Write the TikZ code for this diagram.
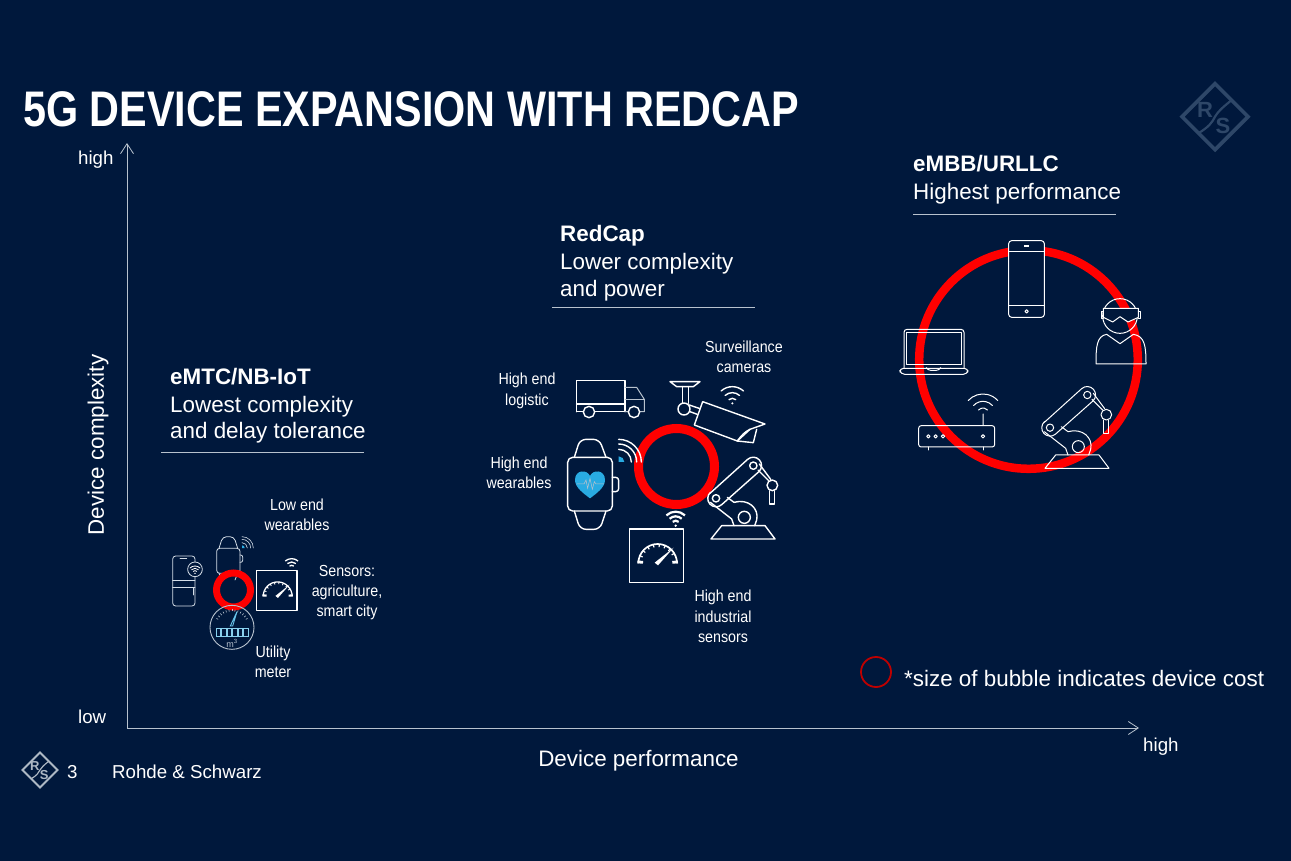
\documentclass[tikz,border=0pt]{standalone}
\usepackage{fontspec}
\setmainfont{Liberation Sans}
\newfontfamily\narrowfont[FakeStretch=0.89]{Liberation Sans}
\newfontfamily\titlefont[FakeStretch=0.827]{Liberation Sans Bold}
\usetikzlibrary{arrows.meta,calc}
\definecolor{bgnavy}{HTML}{00183C}
\definecolor{redcirc}{HTML}{FF0000}
\definecolor{skyblue}{HTML}{29ABE2}
\definecolor{logofaint}{HTML}{2E4768}
\definecolor{logolight}{HTML}{AEB8C4}
\definecolor{softline}{HTML}{B8C2CE}
\definecolor{lowicon}{HTML}{D5DEE8}
\tikzset{
  bubble/.style={draw=redcirc},
  icon/.style={draw=white,line width=1.4pt,line join=round,line cap=round},
  thinicon/.style={draw=white,line width=1pt,line join=round,line cap=round},
  lowlinew/.style={draw=lowicon,line width=.8pt,line join=round,line cap=round},
  body/.style={anchor=base west,inner sep=0pt,text=white,font=\fontsize{22.4}{27}\selectfont},
  bodyhead/.style={body,font=\fontsize{22.4}{27}\selectfont\bfseries},
  small/.style={inner sep=0pt,text=white,align=center,font=\narrowfont\fontsize{16}{20.4}\selectfont},
  axislabel/.style={inner sep=0pt,text=white,font=\fontsize{18.7}{23}\selectfont},
  rule/.style={draw=softline,line width=.6pt},
  axis/.style={draw=softline,line width=.8pt},
}
\newcommand{\wififlip}[4]{%
  \foreach \r in {#2}{\draw[#4] ($(#1)+({-90-#3}:\r)$) arc[start angle={-90-#3},end angle={-90+#3},radius=\r];}
}
\newcommand{\roboticon}[2]{% shift (zoom units), style
  \begin{scope}[shift={(#1)}]
    \draw[#2] (693,627) -- (725,587) -- (855,587) -- (885,627) -- cycle;
    \draw[#2] (690,490) -- (803,388) arc[start angle=228,end angle=408,radius=25] -- (725,524) arc[start angle=48,end angle=228,radius=25]-- cycle;
    \draw[#2] (708,505) circle (11);
    \draw[#2] (820,407) circle (11);
    \draw[#2] (834,420) -- (866,452);
    \draw[#2] (838,402) -- (872,448);
    \draw[#2] (877,466) circle (16);
    \draw[#2] (869,482) -- (869,522) -- (883,522) -- (883,482);
    \draw[#2] (691,517) -- (755,567) -- (762,587);
    \draw[#2] (742,502) -- (762,517) .. controls (805,505) and (838,535) .. (830,570) -- (824,587);
    \draw[#2] (793,562) circle (18);
  \end{scope}
}
\newcommand{\gaugeicon}[3]{% shift, scale, style
  \begin{scope}[shift={(#1)},scale=#2]
    \draw[#3] (0,0) rectangle (161,160);
    \begin{scope}[shift={(84,103)}]
      \draw[draw=white,line width={1.7pt*#2}] (-58,0) arc[start angle=180,end angle=360,radius=58];
      \foreach \a in {203,221,...,340}{\draw[draw=white,line width={1.2pt*#2}] (\a:58) -- (\a:49);}
      \draw[draw=white,line width={2.8pt*#2}] (184:44) -- (184:61);
      \draw[draw=white,line width={2.8pt*#2}] (356:44) -- (356:61);
      \fill[white] (-9,-2) -- (48,-47) -- (1,6) -- cycle;
    \end{scope}
  \end{scope}
}
\newcommand{\rslogo}[5]{% centre, scale, colour, font size, prefix
  \begin{scope}[shift={(#1)},scale=#2]
    \draw[draw=#3,line width={3.6pt*#2}] (0,-33) -- (33,0) -- (0,33) -- (-33,0) -- cycle;
    \draw[draw=#3,line width={2.2pt*#2}] (16.5,-16.5) .. controls (6,-8) and (3,-5) .. (0,0) .. controls (-3,6) and (-6,10) .. (-16.5,16.5);
    \node[text=#3,inner sep=0pt,font=\bfseries\fontsize{#4}{#4}\selectfont] (#5R) at (-10,-7) {R};
    \node[text=#3,inner sep=0pt,font=\bfseries\fontsize{#4}{#4}\selectfont] (#5S) at (8,9) {S};
  \end{scope}
}
\begin{document}
\begin{tikzpicture}[x=1pt,y=-1pt]
\useasboundingbox (0,0) rectangle (1291,861);
\fill[bgnavy] (0,0) rectangle (1291,861);

% title
\node[anchor=base west,inner sep=0pt,text=white,font=\titlefont\fontsize{50}{52}\selectfont] (title) at (23,126.5) {5G DEVICE EXPANSION WITH REDCAP};

% logos
\rslogo{1215,116.7}{1}{logofaint}{22}{big}
\rslogo{40,770}{.53}{logolight}{13}{small}

% axes
\coordinate (orig) at (127,728);
\coordinate (ytip) at (127,143);
\coordinate (xtip) at (1139,728);
\draw[axis,-{Straight Barb[length=10pt,width=13pt]}] (orig) -- (ytip);
\draw[axis,-{Straight Barb[length=10pt,width=13pt]}] (orig) -- (xtip);
\node[axislabel,anchor=base west] (yhigh) at (78,165) {high};
\node[axislabel,anchor=base west] (ylow) at (78,723) {low};
\node[axislabel,anchor=base west] (xhigh) at (1143,751) {high};
\node[inner sep=0pt,text=white,font=\fontsize{22.4}{26}\selectfont,rotate=90] (ylab) at (98,445) {Device complexity};
\node[inner sep=0pt,text=white,font=\fontsize{22.4}{26}\selectfont,anchor=base] (xlab) at (638.5,766) {Device performance};
\node[axislabel,anchor=base west] (pageno) at (67,778) {3};
\node[axislabel,anchor=base west] (brand) at (112,778) {Rohde \& Schwarz};

% headings
\node[bodyhead] (h1a) at (170,384) {eMTC/NB-IoT};
\node[body] (h1b) at (170,412) {Lowest complexity};
\node[body] (h1c) at (170,438) {and delay tolerance};
\draw[rule] (161,452.5) -- (364,452.5);
\node[bodyhead] (h2a) at (560,242) {RedCap};
\node[body] (h2b) at (560,269.5) {Lower complexity};
\node[body] (h2c) at (560,296) {and power};
\draw[rule] (552,307.5) -- (755,307.5);
\node[bodyhead] (h3a) at (913,172) {eMBB/URLLC};
\node[body] (h3b) at (913,200) {Highest performance};
\draw[rule] (913,214.5) -- (1116,214.5);

% small labels
\node[small] (l1) at (297,515) {Low end\\wearables};
\node[small] (l2) at (347,592.5) {Sensors:\\agriculture,\\smart city};
\node[small] (l3) at (273,662) {Utility\\meter};
\node[small] (l4) at (527,391) {High end\\logistic};
\node[small] (l5) at (519,472.5) {High end\\wearables};
\node[small] (l6) at (723,616.5) {High end\\industrial\\sensors};
\node[small] (l7) at (744,356.5) {Surveillance\\cameras};

% legend
\node[circle,draw=red!75!black,line width=1.8pt,minimum size=30pt,inner sep=0pt] (legend) at (876,672) {};
\node[body] (legendtxt) at (904,686) {*size of bubble indicates device cost};

% ---------- big bubble
\draw[bubble,line width=8.5pt] (1028.5,359.5) circle (109.3);
\begin{scope}[shift={(890,230)},scale=1/3]
  % phone
  \draw[thinicon,fill=bgnavy,rounded corners=3pt] (356,32) rectangle (463,262);
  \draw[thinicon] (356,65) -- (463,65);
  \draw[thinicon] (356,228) -- (463,228);
  \draw[thinicon] (410,244) circle (5);
  \draw[draw=white,line width=1.2pt] (402,48) -- (417,48);
  % vr person
  \draw[thinicon] (690,258) circle (52);
  \draw[thinicon,fill=bgnavy] (640,235) -- (745,235) -- (745,262) -- (714,276) -- (690,260) -- (668,276) -- (640,262) -- cycle;
  \draw[thinicon] (640,245) -- (633,245) -- (633,265) -- (640,265);
  \draw[thinicon] (745,245) -- (750,245) -- (750,265) -- (745,265);
  \draw[thinicon] (618,402) -- (768,402) .. controls (768,350) and (765,318) .. (730,313) -- (690,341) -- (650,313) .. controls (620,318) and (618,350) .. (618,402) -- cycle;
  % laptop
  \draw[thinicon,rounded corners=3pt] (42,413) -- (42,298) -- (222,298) -- (222,413);
  \draw[thinicon] (50,405) -- (50,307) -- (214,307) -- (214,405) -- cycle;
  \draw[thinicon,rounded corners=4pt] (28,415) -- (235,415) -- (232,433) -- (32,433) -- cycle;
  \draw[thinicon,rounded corners=3pt] (110,415) -- (113,421) -- (148,421) -- (151,415);
  % router
  \draw[thinicon,rounded corners=2.5pt] (86,587) rectangle (314,651);
  \foreach \xx in {115,137,159,279}{\draw[thinicon] (\xx,619) circle (5);}
  \draw[thinicon] (115,651) -- (115,660);
  \draw[thinicon] (279,651) -- (279,660);
  \coordinate (routerwifi) at (279,552);
  \draw[thinicon] (routerwifi) -- (279,587);
  \wififlip{routerwifi}{18,38,60}{48}{thinicon}
  % robot
  \roboticon{-228,88}{thinicon}
\end{scope}

% ---------- RedCap bubble
\draw[bubble,line width=9pt] (676.5,466.5) circle (38);
\begin{scope}[shift={(480,330)},scale=1/3]
  % truck
  \draw[icon] (290,245) -- (290,152) -- (435,152) -- (435,245);
  \draw[icon] (290,222) -- (435,222);
  \draw[icon] (290,245) -- (435,245);
  \draw[thinicon,draw=softline] (435,172) -- (470,172) -- (493,208) -- (493,245) -- (435,245);
  \draw[thinicon,draw=softline] (435,208) -- (493,208);
  \draw[icon,fill=bgnavy] (327,246) circle (17);
  \draw[icon,fill=bgnavy] (462,246) circle (17);
  % camera
  \draw[icon] (570,155) -- (660,155) -- (640,170) -- (590,170) -- cycle;
  \draw[icon] (607,170) -- (607,218);
  \draw[icon] (625,170) -- (625,220);
  \draw[icon] (612,237) circle (18);
  \draw[icon] (628,225) -- (660,236);
  \draw[icon] (630,245) -- (652,253);
  \draw[icon,fill=bgnavy] (668,215) -- (855,282) -- (810,298) -- (772,333) -- (643,285) -- cycle;
  \draw[icon] (772,333) -- (820,338) -- (830,298);
  \draw[icon] (810,298) .. controls (795,305) and (785,315) .. (772,333);
  \wififlip{757,220}{15,32,50}{42}{icon}
  \fill[white] (757,220) circle (3.5);
  % watch
  \draw[icon,rounded corners=5pt] (263,382) rectangle (397,543);
  \draw[icon,rounded corners=3pt] (397,442) -- (416,442) -- (416,485) -- (397,485);
  \draw[icon,rounded corners=6pt] (283,382) -- (300,328) -- (358,328) -- (378,382);
  \draw[icon,rounded corners=6pt] (283,543) -- (300,598) -- (360,598) -- (378,543);
  \fill[skyblue] (330,505) .. controls (310,490) and (285,472) .. (285,450) .. controls (285,418) and (322,418) .. (330,438) .. controls (338,418) and (375,418) .. (375,450) .. controls (375,472) and (350,490) .. (330,505) -- cycle;
  \draw[draw=softline,line width=.5pt] (290,462) -- (312,462) -- (318,450) -- (323,475) -- (330,445) -- (337,478) -- (343,455) -- (348,462) -- (372,462);
  \fill[skyblue] (416,396) -- (433,396) arc[start angle=0,end angle=-90,radius=17] -- cycle;
  \draw[icon] (416,358) arc[start angle=-90,end angle=0,radius=38];
  \draw[icon] (416,342) arc[start angle=-90,end angle=0,radius=54];
  \draw[icon] (416,328) arc[start angle=-90,end angle=0,radius=68];
  % gauge + wifi
  \gaugeicon{449,597}{1}{icon}
  \wififlip{587,585}{13,26,40}{44}{draw=white,line width=2.2pt}
  \fill[white] (587,587) circle (4);
  % robot
  \roboticon{0,0}{icon}
\end{scope}

% ---------- low-end bubble
\begin{scope}[shift={(150,480)},scale=1/3]
  % watch
  \draw[lowlinew,rounded corners=3pt] (200,205) -- (270,205) -- (270,280) -- (200,280) -- cycle;
  \draw[lowlinew,rounded corners=2pt] (270,225) -- (278,225) -- (278,247) -- (270,247);
  \draw[lowlinew,rounded corners=4pt] (207,205) -- (218,170) -- (252,170) -- (263,205);
  \draw[lowlinew] (207,280) -- (215,300);
  \draw[lowlinew] (263,280) -- (255,300);
  \fill[skyblue] (276,204) -- (284,204) arc[start angle=0,end angle=-90,radius=8] -- cycle;
  \draw[lowlinew,line width=.6pt] (276,188) arc[start angle=-90,end angle=0,radius=16];
  \draw[lowlinew,line width=.6pt] (276,178) arc[start angle=-90,end angle=0,radius=26];
  \draw[lowlinew,line width=.6pt] (276,170) arc[start angle=-90,end angle=0,radius=34];
  % bubble over the watch
  \draw[bubble,line width=7pt] (250.5,330) circle (51);
  % fridge
  \draw[lowlinew,rounded corners=3pt] (68,228) rectangle (135,378);
  \draw[lowlinew] (68,302) -- (135,302);
  \draw[lowlinew] (68,322) -- (135,322);
  \draw[lowlinew] (130,325) -- (130,345);
  \draw[lowlinew] (90,236) -- (110,236);
  \draw[lowlinew,fill=bgnavy] (135,268) circle (22);
  \wififlip{135,280}{8,15,22}{45}{draw=white,line width=.8pt}
  \fill[white] (135,280) circle (2.5);
  % sensor
  \gaugeicon{320,272}{.75}{icon}
  \wififlip{425,266}{10,20,30}{40}{draw=white,line width=1.3pt}
  % meter
  \draw[draw=softline,line width=.9pt] (246,442) circle (66);
  \foreach \a in {210,220,...,330}{\draw[draw=softline,line width=.6pt] ($(246,442)+(\a:48)$) -- ($(246,442)+(\a:54)$);}
  \draw[draw=skyblue!70!white,line width=.9pt] (241,438) -- (261,395) -- (248,438) -- cycle;
  \foreach \xx in {198,214.5,231,247.5,264,280.5}{\draw[draw=skyblue!55!white,line width=.6pt] (\xx,446) rectangle ++(13.5,22);}
  \node[inner sep=0pt,text=softline,font=\fontsize{9}{9}\selectfont] (meterunit) at (246,490) {m\textsuperscript{3}};
\end{scope}
\end{tikzpicture}
\end{document}
